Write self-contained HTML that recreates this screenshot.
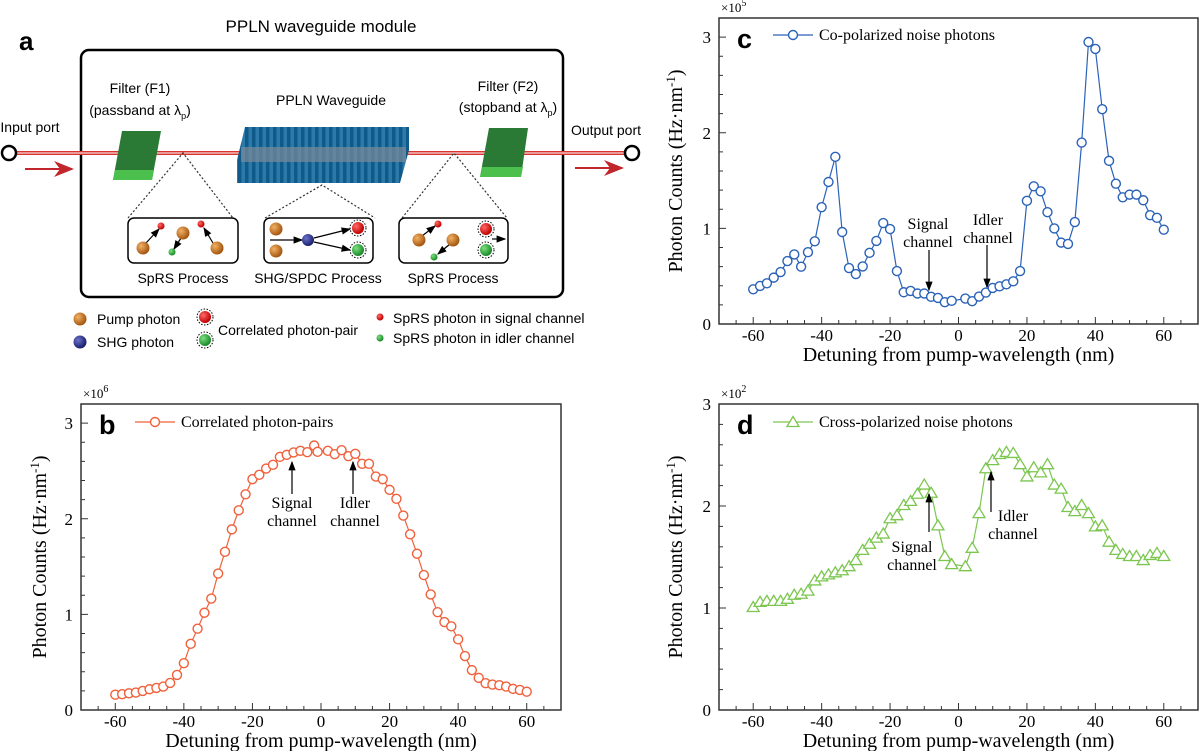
<!DOCTYPE html>
<html><head><meta charset="utf-8"><style>
html,body{margin:0;padding:0;background:#fff;}
svg{display:block;}
.serif{font-family:"Liberation Serif",serif;}
.sans{font-family:"Liberation Sans",sans-serif;}
</style></head><body>
<svg id="fig" width="1200" height="751" viewBox="0 0 1200 751" xmlns="http://www.w3.org/2000/svg">
<defs>
<pattern id="stripes" width="7" height="10" patternUnits="userSpaceOnUse">
<rect width="7" height="10" fill="#2c7aa8"/><rect width="3.5" height="10" fill="#0f5a8a"/>
</pattern>
<marker id="ah" markerWidth="8" markerHeight="8" refX="7" refY="4" orient="auto"><path d="M0,1 L8,4 L0,7 z" fill="#000"/></marker>
<marker id="rah" markerWidth="10" markerHeight="10" refX="9" refY="5" orient="auto"><path d="M0,1 L10,5 L0,9 L3,5 z" fill="#c0262c"/></marker>
<radialGradient id="gOr" cx="35%" cy="35%" r="65%"><stop offset="0" stop-color="#f2b266"/><stop offset="1" stop-color="#a4560f"/></radialGradient>
<radialGradient id="gBl" cx="35%" cy="35%" r="65%"><stop offset="0" stop-color="#6b72c8"/><stop offset="1" stop-color="#1b1f6e"/></radialGradient>
<radialGradient id="gRd" cx="35%" cy="35%" r="65%"><stop offset="0" stop-color="#ff6a6a"/><stop offset="1" stop-color="#c00000"/></radialGradient>
<radialGradient id="gGr" cx="35%" cy="35%" r="65%"><stop offset="0" stop-color="#7ee07e"/><stop offset="1" stop-color="#1a8a2a"/></radialGradient>
</defs>

<!-- Panel a -->
<g id="panel-a" class="sans">
<text x="19" y="50" font-size="26" font-weight="bold">a</text>
<text x="321" y="32" font-size="17" text-anchor="middle">PPLN waveguide module</text>
<rect x="81" y="50" width="482" height="247" rx="8" fill="none" stroke="#000" stroke-width="2.5"/>
<line x1="14" y1="153" x2="626" y2="153" stroke="#d9352f" stroke-width="4"/>
<line x1="14" y1="153" x2="626" y2="153" stroke="#fff" stroke-width="1"/>
<circle cx="9" cy="153" r="7" fill="#fff" stroke="#000" stroke-width="2.5"/>
<circle cx="632" cy="153" r="7" fill="#fff" stroke="#000" stroke-width="2.5"/>
<line x1="25" y1="169" x2="72" y2="169" stroke="#c0262c" stroke-width="2" marker-end="url(#rah)"/>
<line x1="575" y1="168" x2="622" y2="168" stroke="#c0262c" stroke-width="2" marker-end="url(#rah)"/>
<text x="30" y="132" font-size="14" text-anchor="middle">Input port</text>
<text x="606" y="135" font-size="14" text-anchor="middle">Output port</text>
<text x="140" y="93" font-size="14" text-anchor="middle">Filter (F1)</text>
<text x="140" y="115" font-size="14" text-anchor="middle">(passband at λ<tspan font-size="9" dy="4">p</tspan><tspan dy="-4">)</tspan></text>
<text x="331" y="105" font-size="14" text-anchor="middle">PPLN Waveguide</text>
<text x="508" y="91" font-size="14" text-anchor="middle">Filter (F2)</text>
<text x="508" y="112" font-size="14" text-anchor="middle">(stopband at λ<tspan font-size="9" dy="4">p</tspan><tspan dy="-4">)</tspan></text>
<polygon points="122,131 161,131 152,180 113,180" fill="#2a7a35"/>
<polygon points="115,170 154,170 152,180 113,180" fill="#4cc04c"/>
<polygon points="489,128 528,128 521,177 480,177" fill="#2a7a35"/>
<polygon points="482,167 523,167 521,177 480,177" fill="#4cc04c"/>
<polygon points="245,127 409,127 409,150 400,183 237,183 237,160" fill="url(#stripes)"/>
<rect x="241" y="147" width="165" height="15" fill="#7a8a98" opacity="0.7"/>
<g stroke="#333" stroke-width="1.2" stroke-dasharray="2,2" fill="none">
<polyline points="128,218 183,153 233,218"/>
<polyline points="265,218 322,185 375,218"/>
<polyline points="402,218 454,153 507,218"/>
</g>
<rect x="128" y="218" width="110" height="45" rx="6" fill="#fff" stroke="#000" stroke-width="1.5"/>
<rect x="264" y="218" width="109" height="45" rx="6" fill="#fff" stroke="#000" stroke-width="1.5"/>
<rect x="399" y="218" width="109" height="45" rx="6" fill="#fff" stroke="#000" stroke-width="1.5"/>
<g stroke="#000" stroke-width="1.2" marker-end="url(#ah)">
<line x1="146" y1="243" x2="159" y2="229"/><line x1="181" y1="238" x2="174" y2="249"/><line x1="213" y1="243" x2="204" y2="228"/>
<line x1="270" y1="240" x2="302" y2="240"/><line x1="314" y1="238" x2="350" y2="229"/><line x1="314" y1="242" x2="350" y2="250"/>
<line x1="422" y1="236" x2="435" y2="226"/><line x1="450" y1="244" x2="438" y2="254"/><line x1="492" y1="239" x2="505" y2="239"/>
</g>
<circle cx="143" cy="248" r="6.5" fill="url(#gOr)"/><circle cx="183" cy="233" r="6.5" fill="url(#gOr)"/><circle cx="217" cy="248" r="6.5" fill="url(#gOr)"/>
<circle cx="161" cy="226" r="3.5" fill="url(#gRd)"/><circle cx="201" cy="224" r="3.5" fill="url(#gRd)"/><circle cx="172" cy="252" r="3.5" fill="url(#gGr)"/>
<circle cx="276" cy="229" r="6.5" fill="url(#gOr)"/><circle cx="276" cy="251" r="6.5" fill="url(#gOr)"/><circle cx="308" cy="240" r="6" fill="url(#gBl)"/>
<circle cx="358" cy="228" r="8" fill="none" stroke="#000" stroke-dasharray="1.5,1.5"/><circle cx="358" cy="228" r="6" fill="url(#gRd)"/>
<circle cx="358" cy="250" r="8" fill="none" stroke="#000" stroke-dasharray="1.5,1.5"/><circle cx="358" cy="250" r="6" fill="url(#gGr)"/>
<circle cx="419" cy="240" r="6.5" fill="url(#gOr)"/><circle cx="453" cy="240" r="6.5" fill="url(#gOr)"/>
<circle cx="438" cy="224" r="3.5" fill="url(#gRd)"/><circle cx="434" cy="257" r="3.5" fill="url(#gGr)"/>
<circle cx="486" cy="229" r="8" fill="none" stroke="#000" stroke-dasharray="1.5,1.5"/><circle cx="486" cy="229" r="6" fill="url(#gRd)"/>
<circle cx="486" cy="250" r="8" fill="none" stroke="#000" stroke-dasharray="1.5,1.5"/><circle cx="486" cy="250" r="6" fill="url(#gGr)"/>
<text x="183" y="283" font-size="14" text-anchor="middle">SpRS Process</text>
<text x="318" y="283" font-size="14" text-anchor="middle">SHG/SPDC Process</text>
<text x="453" y="283" font-size="14" text-anchor="middle">SpRS Process</text>
<g>
<circle cx="80" cy="319" r="6.5" fill="url(#gOr)"/><text x="97" y="324" font-size="14">Pump photon</text>
<circle cx="80" cy="342" r="6.5" fill="url(#gBl)"/><text x="97" y="347" font-size="14">SHG photon</text>
<circle cx="205" cy="317" r="8" fill="none" stroke="#000" stroke-dasharray="1.5,1.5"/><circle cx="205" cy="317" r="6" fill="url(#gRd)"/>
<circle cx="205" cy="340" r="8" fill="none" stroke="#000" stroke-dasharray="1.5,1.5"/><circle cx="205" cy="340" r="6" fill="url(#gGr)"/>
<text x="218" y="335" font-size="14">Correlated photon-pair</text>
<circle cx="380" cy="317" r="3.5" fill="url(#gRd)"/><text x="393" y="323" font-size="14">SpRS photon in signal channel</text>
<circle cx="380" cy="338" r="3.5" fill="url(#gGr)"/><text x="393" y="343" font-size="14">SpRS photon in idler channel</text>
</g>
</g>

<g id="charts" class="serif"></g>
</svg>
<script>
// Panel b: correlated photon-pairs (x1e6)
const bX = [-60,-58,-56,-54,-52,-50,-48,-46,-44,-42,-40,-38,-36,-34,-32,-30,-28,-26,-24,-22,-20,-18,-16,-14,-12,-10,-8,-6,-4,-2,-1,2,4,6,8,10,12,14,16,18,20,22,24,26,28,30,32,34,36,38,40,42,44,46,48,50,52,54,56,58,60];
const bY = [0.16,0.165,0.175,0.182,0.199,0.217,0.231,0.245,0.283,0.367,0.49,0.692,0.85,1.017,1.165,1.427,1.654,1.889,2.088,2.256,2.414,2.459,2.525,2.564,2.647,2.668,2.693,2.71,2.696,2.766,2.70,2.71,2.675,2.717,2.654,2.679,2.574,2.574,2.441,2.414,2.302,2.208,2.033,1.837,1.634,1.411,1.208,1.023,0.92,0.875,0.739,0.564,0.417,0.336,0.28,0.266,0.259,0.245,0.221,0.21,0.192];
// Panel c: co-polarized noise photons (x1e5)
const cX = [-60,-58,-56,-54,-52,-50,-48,-46,-44,-42,-40,-38,-36,-34,-32,-30,-28,-26,-24,-22,-20,-18,-16,-14,-12,-10,-8,-6,-4,-2,2,4,6,8,10,12,14,16,18,20,22,24,26,28,30,32,34,36,38,40,42,44,46,48,50,52,54,56,58,60];
const cY = [0.363,0.398,0.426,0.485,0.543,0.658,0.727,0.599,0.751,0.865,1.222,1.485,1.748,0.962,0.585,0.522,0.602,0.744,0.869,1.056,0.993,0.554,0.332,0.346,0.319,0.319,0.284,0.273,0.228,0.242,0.266,0.239,0.287,0.329,0.377,0.394,0.415,0.446,0.554,1.288,1.44,1.388,1.169,0.999,0.851,0.837,1.066,1.897,2.949,2.876,2.246,1.706,1.467,1.325,1.353,1.353,1.294,1.138,1.11,0.986];
// Panel d: cross-polarized noise photons (x1e2)
const dX = [-60,-58,-56,-54,-52,-50,-48,-46,-44,-42,-40,-38,-36,-34,-32,-30,-28,-26,-24,-22,-20,-18,-16,-14,-12,-10,-8,-6,-4,-2,2,4,6,8,10,12,14,16,18,20,22,24,26,28,30,32,34,36,38,40,42,44,46,48,50,52,54,56,58,60];
const dY = [1.01,1.06,1.07,1.07,1.07,1.09,1.13,1.14,1.17,1.27,1.31,1.33,1.35,1.37,1.41,1.47,1.57,1.63,1.69,1.73,1.88,1.91,2.01,2.05,2.12,2.21,2.13,1.81,1.51,1.43,1.41,1.59,1.93,2.37,2.45,2.51,2.53,2.52,2.41,2.29,2.38,2.33,2.41,2.21,2.17,1.99,1.95,2.01,1.93,1.80,1.81,1.65,1.57,1.53,1.51,1.51,1.47,1.52,1.54,1.51];
const xTicks = [-60,-40,-20,0,20,40,60];
const yTicks = [0,1,2,3];

const NS = "http://www.w3.org/2000/svg";
const root = document.getElementById('charts');
function mk(tag, attrs, parent){const e=document.createElementNS(NS,tag);for(const k in attrs)e.setAttribute(k,attrs[k]);(parent||root).appendChild(e);return e;}

function chart(o){
  const g = mk('g',{});
  
  
  const sx = v => o.L + (v - (-70)) / 140 * (o.R - o.L);
  const sy = v => o.B - v / o.ymax * (o.B - o.T);
  for(let v=-65; v<=65; v+=5){
    const major = v%20===0;
    const t = mk('line',{x1:sx(v),x2:sx(v),y1:o.B,y2:o.B-(major?7:4),stroke:'#333','stroke-width':1},g);
    
    
  }
  for(let v=0.2; v<o.ymax; v+=0.2){
    const major = Math.abs(v-Math.round(v))<1e-6;
    mk('line',{x1:o.L,x2:o.L+(major?7:4),y1:sy(v),y2:sy(v),stroke:'#333','stroke-width':1},g);
  }
  xTicks.forEach(v=>{
    const t=mk('text',{x:sx(v),y:o.B+17,'font-size':17,'text-anchor':'middle'},g);
    t.textContent=v;
    
    
  });
  yTicks.forEach(v=>{
    const t=mk('text',{x:o.L-8,y:sy(v)+6,'font-size':17,'text-anchor':'end'},g);
    t.textContent=v;
    
    
  });
  const ex=mk('text',{x:o.L+2,y:o.T-6,'font-size':13},g);
  ex.innerHTML='×10<tspan font-size="10" dy="-6">'+o.exp+'</tspan>';
  
  
  const xt=mk('text',{x:(o.L+o.R)/2,y:o.B+37,'font-size':20,'text-anchor':'middle'},g);
  xt.textContent='Detuning from pump-wavelength (nm)';
  
  
  const cy=(o.T+o.B)/2;
  const yt=mk('text',{x:o.yx,y:cy,'font-size':20,'text-anchor':'middle',transform:'rotate(-90 '+o.yx+' '+cy+')'},g);
  yt.innerHTML='Photon Counts (Hz·nm<tspan font-size="13" dy="-7">-1</tspan><tspan dy="7">)</tspan>';
  
  
  const pts=o.xs.map((x,i)=>sx(x)+','+sy(o.ys[i])).join(' ');
  const pl=mk('polyline',{points:pts,fill:'none',stroke:o.color,'stroke-width':1.2},g);
  
  
  function marker(x,y){
    let m;
    if(o.tri){m=mk('polygon',{points:(x)+','+(y-5.5)+' '+(x-6)+','+(y+4.5)+' '+(x+6)+','+(y+4.5),fill:'#fff',stroke:o.color,'stroke-width':1.3},g);}
    else{m=mk('circle',{cx:x,cy:y,r:4.5,fill:'#fff',stroke:o.color,'stroke-width':1.4},g);}
    return m;
  }
  o.xs.forEach((x,i)=>{
    const m=marker(sx(x),sy(o.ys[i]));
    
    
  });
  const fr=mk('rect',{x:o.L,y:o.T,width:o.R-o.L,height:o.B-o.T,fill:'none',stroke:'#333','stroke-width':1.5},g);
  
  
  const lg=mk('g',{},g);
  
  
  mk('line',{x1:o.L+54,x2:o.L+94,y1:o.ly,y2:o.ly,stroke:o.color,'stroke-width':1.2},lg);
  const m=marker(o.L+74,o.ly); lg.appendChild(m);
  const lt=mk('text',{x:o.L+100,y:o.ly+5,'font-size':16},lg); lt.textContent=o.legend;
  const pl2=mk('text',{x:o.L+18,y:o.T+30,'font-size':27,'font-weight':'bold','font-family':'Liberation Sans, sans-serif'},g);
  pl2.textContent=o.letter;
  
  
  o.ann.forEach(a=>{
    const ar=mk('line',{x1:a.x,y1:a.y1,x2:a.x,y2:a.y2,stroke:'#000','stroke-width':1.2,'marker-end':'url(#ah)'},g);
    
    
    a.lines.forEach((s,j)=>{
      const t=mk('text',{x:a.tx,y:a.ty+j*18,'font-size':16,'text-anchor':'middle'},g);
      t.textContent=s;
      
      
    });
  });
}

chart({name:'chart-b-correlated-pairs',letter:'b',L:81,R:561,T:404,B:710,ymax:3.2,exp:6,yx:46,xs:bX,ys:bY,color:'#f0603a',tri:false,legend:'Correlated photon-pairs',ly:422,
  ann:[{x:292,y1:494,y2:462,tx:292,ty:508,lines:['Signal','channel']},{x:353,y1:494,y2:462,tx:355,ty:508,lines:['Idler','channel']}]});
chart({name:'chart-c-co-polarized',letter:'c',L:719,R:1198,T:18,B:324,ymax:3.2,exp:5,yx:682,xs:cX,ys:cY,color:'#2a62b8',tri:false,legend:'Co-polarized noise photons',ly:35,
  ann:[{x:929,y1:250,y2:290,tx:928,ty:229,lines:['Signal','channel']},{x:987,y1:245,y2:287,tx:988,ty:225,lines:['Idler','channel']}]});
chart({name:'chart-d-cross-polarized',letter:'d',L:719,R:1198,T:404,B:710,ymax:3,exp:2,yx:682,xs:dX,ys:dY,color:'#7cc650',tri:true,legend:'Cross-polarized noise photons',ly:422,
  ann:[{x:929,y1:532,y2:494,tx:912,ty:552,lines:['Signal','channel']},{x:991,y1:512,y2:472,tx:1013,ty:521,lines:['Idler','channel']}]});
</script>
</body></html>
